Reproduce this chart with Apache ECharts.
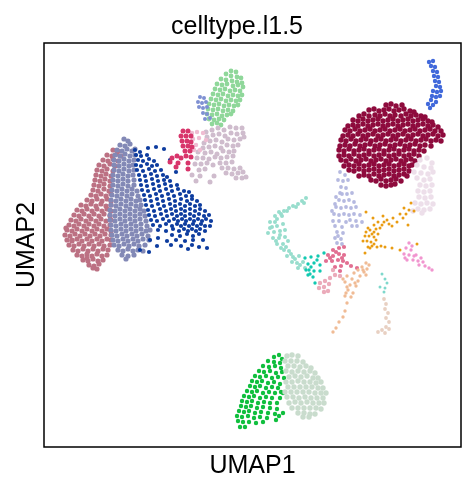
<!DOCTYPE html>
<html><head><meta charset="utf-8">
<script src="https://cdn.jsdelivr.net/npm/echarts@6/dist/echarts.min.js"></script>
<style>html,body{margin:0;padding:0;background:#fff}#c{width:474px;height:492px}</style></head>
<body><div id="c"></div>
<script>
const rose=[[113,150],[118,151],[107,155],[112,156],[117,154],[121,156],[103,160],[108,161],[113,159],[118,161],[99,165],[104,166],[110,164],[115,166],[97,170],[102,171],[107,169],[113,171],[96,175],[101,176],[106,174],[111,176],[95,180],[100,181],[105,179],[110,181],[94,185],[99,186],[104,184],[110,186],[93,190],[98,191],[104,189],[109,191],[91,195],[96,196],[101,194],[106,196],[111,194],[87,200],[92,201],[97,199],[102,201],[107,199],[111,201],[81,205],[86,206],[91,204],[96,206],[101,204],[106,206],[111,205],[77,210],[82,211],[87,209],[92,211],[97,209],[102,211],[107,209],[111,211],[74,215],[79,216],[84,214],[89,216],[94,214],[99,216],[104,214],[110,216],[71,220],[76,221],[81,219],[86,221],[91,219],[96,221],[101,219],[106,221],[111,220],[69,225],[74,226],[79,224],[84,226],[89,224],[94,226],[99,224],[104,226],[110,225],[67,230],[72,231],[77,229],[82,231],[87,229],[92,231],[97,229],[102,231],[107,229],[111,231],[65,235],[70,236],[75,234],[80,236],[85,234],[90,236],[95,234],[100,236],[105,234],[111,235],[67,240],[72,241],[77,239],[82,241],[87,239],[92,241],[97,239],[102,241],[107,239],[111,240],[69,245],[74,246],[79,244],[84,246],[89,244],[94,246],[99,244],[104,246],[110,245],[73,250],[78,251],[83,249],[88,251],[93,249],[98,251],[103,249],[108,250],[77,255],[82,256],[87,254],[92,256],[97,254],[102,256],[107,255],[83,260],[88,261],[93,259],[98,261],[103,260],[89,265],[94,266],[99,264],[93,268],[97,269],[87,258],[72,240],[66,228]];
const slate=[[124,139],[128,141],[120,145],[125,146],[130,144],[117,150],[122,151],[127,149],[132,151],[135,149],[115,155],[120,156],[125,154],[130,156],[135,155],[114,160],[119,161],[124,159],[129,161],[134,160],[114,165],[119,166],[124,164],[129,166],[133,165],[114,170],[119,171],[124,169],[129,171],[134,170],[113,175],[118,176],[123,174],[128,176],[133,175],[113,180],[118,181],[123,179],[128,181],[134,180],[113,185],[118,186],[123,184],[128,186],[134,185],[112,190],[117,191],[122,189],[127,191],[132,189],[137,191],[112,195],[117,196],[122,194],[127,196],[132,194],[138,196],[111,200],[116,201],[121,199],[126,201],[131,199],[136,201],[140,200],[111,205],[116,206],[121,204],[126,206],[131,204],[136,206],[141,205],[110,210],[115,211],[120,209],[125,211],[130,209],[135,211],[140,209],[144,211],[110,215],[115,216],[120,214],[125,216],[130,214],[135,216],[140,214],[145,216],[110,220],[115,221],[120,219],[125,221],[130,219],[135,221],[140,219],[146,221],[111,225],[116,226],[121,224],[126,226],[131,224],[136,226],[141,224],[147,226],[111,230],[116,231],[121,229],[126,231],[131,229],[136,231],[141,229],[146,231],[150,230],[112,235],[117,236],[122,234],[127,236],[132,234],[137,236],[142,234],[148,236],[113,240],[118,241],[123,239],[128,241],[133,239],[138,241],[143,239],[149,240],[114,245],[119,246],[124,244],[129,246],[134,244],[139,246],[145,245],[118,250],[123,251],[128,249],[133,251],[138,250],[143,251],[122,255],[128,256],[134,255],[126,259]];
const navy=[[135,150],[140,152],[136,155],[141,156],[147,155],[138,160],[143,161],[149,159],[154,161],[136,165],[141,166],[147,164],[152,166],[157,165],[137,170],[143,171],[149,169],[155,171],[161,170],[139,175],[145,176],[151,174],[157,176],[163,175],[167,177],[140,180],[146,181],[152,179],[158,181],[164,180],[170,181],[141,185],[147,186],[153,184],[159,186],[165,184],[171,186],[177,185],[142,190],[148,191],[154,189],[160,191],[166,189],[172,191],[178,189],[184,191],[189,192],[144,195],[150,196],[156,194],[162,196],[168,194],[174,196],[180,194],[186,196],[192,196],[145,200],[151,201],[157,199],[163,201],[169,199],[175,201],[181,199],[187,201],[192,199],[197,201],[146,205],[152,206],[158,204],[164,206],[170,204],[175,206],[180,204],[185,206],[190,204],[195,206],[200,205],[148,210],[154,211],[160,209],[166,211],[171,209],[176,211],[181,209],[185,211],[190,209],[195,211],[200,209],[205,211],[149,215],[155,216],[161,214],[167,216],[172,214],[177,216],[181,214],[185,216],[190,214],[194,216],[199,214],[204,216],[209,215],[151,220],[157,221],[163,219],[169,221],[174,219],[178,221],[182,219],[186,221],[190,219],[194,221],[198,219],[202,221],[206,219],[211,221],[153,225],[160,226],[166,224],[172,226],[177,224],[181,226],[185,224],[189,226],[193,224],[197,226],[201,224],[205,226],[210,226],[158,230],[166,231],[173,229],[179,231],[184,229],[188,231],[192,229],[196,231],[200,229],[205,231],[172,235],[180,236],[187,234],[193,236],[199,234],[150,240],[158,238],[167,241],[176,240],[185,241],[193,240],[203,240],[157,246],[171,245],[181,246],[192,245],[199,247],[207,248],[188,249],[140,250],[149,252],[164,149],[176,172],[170,160],[156,147],[148,148]];
const lightGreen=[[231,71],[236,72],[226,74],[231,76],[237,77],[241,78],[221,79],[226,80],[232,81],[237,82],[242,83],[217,84],[222,85],[227,84],[233,86],[238,85],[243,87],[215,89],[220,90],[225,89],[230,91],[235,90],[240,91],[213,94],[218,95],[223,94],[228,96],[233,95],[238,96],[242,95],[211,99],[216,100],[221,99],[226,101],[231,100],[236,101],[240,100],[209,104],[214,105],[219,104],[224,106],[229,105],[234,106],[238,105],[208,109],[213,110],[218,109],[223,111],[228,110],[233,111],[207,114],[212,115],[217,114],[222,116],[227,115],[231,114],[209,119],[214,120],[219,119],[224,120],[212,124],[217,123],[221,125]];
const periwinkle=[[200,97],[204,98],[198,102],[202,103],[206,102],[199,107],[203,108],[207,107],[203,113],[207,114],[205,119],[210,118]];
const crimson=[[183,131],[188,131],[181,136],[186,136],[191,136],[182,141],[187,141],[191,142],[183,146],[188,146],[192,147],[185,151],[190,151],[186,156],[191,157],[172,158],[177,156],[170,162],[178,163],[181,158],[188,163],[188,169],[176,167]];
const blush=[[192,133],[197,132],[193,139],[199,138],[196,145],[203,133],[194,150],[200,150],[206,140]];
const mauve=[[206,132],[212,130],[218,128],[224,130],[230,127],[236,128],[242,128],[207,137],[213,135],[219,134],[225,136],[231,133],[237,134],[243,133],[204,143],[210,141],[216,140],[222,142],[228,139],[234,140],[240,139],[244,137],[203,148],[209,147],[215,146],[221,148],[227,145],[233,146],[238,145],[198,152],[205,153],[211,152],[217,154],[223,151],[229,152],[234,151],[197,158],[203,158],[209,159],[215,157],[221,158],[227,157],[233,156],[195,164],[201,164],[207,163],[213,165],[220,163],[226,163],[232,162],[199,170],[205,169],[222,168],[228,168],[234,169],[240,168],[192,175],[200,176],[226,173],[232,174],[238,173],[243,172],[210,182],[214,176],[236,178],[242,178],[246,177],[196,181]];
const maroon=[[386,105],[391,104],[396,106],[402,105],[369,110],[374,109],[379,111],[384,110],[389,109],[394,111],[399,110],[404,109],[410,111],[414,112],[359,116],[364,114],[369,116],[375,115],[380,116],[385,114],[390,116],[395,115],[401,116],[406,114],[411,116],[416,115],[421,116],[425,117],[353,120],[358,121],[363,119],[368,121],[373,120],[378,119],[383,121],[388,120],[393,119],[398,121],[403,120],[408,119],[413,121],[418,120],[423,119],[428,121],[432,122],[348,126],[353,125],[358,126],[363,124],[368,126],[373,125],[378,124],[383,126],[388,125],[393,124],[398,126],[403,125],[408,124],[413,126],[418,125],[423,124],[428,126],[433,125],[438,127],[345,130],[350,131],[355,129],[360,131],[365,130],[370,129],[375,131],[380,130],[385,129],[390,131],[395,130],[400,129],[405,131],[410,130],[415,129],[420,131],[425,130],[430,129],[435,131],[441,131],[343,136],[348,135],[353,136],[358,134],[363,136],[368,135],[373,134],[378,136],[383,135],[388,134],[393,136],[398,135],[403,134],[408,136],[413,135],[418,134],[423,136],[428,135],[433,134],[438,136],[443,135],[341,140],[346,141],[351,139],[356,141],[361,140],[366,139],[371,141],[376,140],[381,139],[386,141],[391,140],[396,139],[401,141],[406,140],[411,139],[416,141],[421,140],[426,139],[431,141],[436,140],[441,141],[340,146],[345,145],[350,146],[355,144],[360,146],[365,145],[370,144],[375,146],[380,145],[385,144],[390,146],[395,145],[400,144],[405,146],[410,145],[415,144],[420,146],[425,145],[431,146],[339,150],[344,151],[349,149],[354,151],[359,150],[364,149],[369,151],[374,150],[379,149],[384,151],[389,150],[394,149],[399,151],[404,150],[409,149],[414,151],[419,150],[424,151],[339,156],[344,155],[349,156],[354,154],[359,156],[364,155],[369,154],[374,156],[379,155],[384,154],[389,156],[394,155],[399,154],[404,156],[409,155],[414,154],[419,156],[341,160],[346,161],[351,159],[356,161],[361,160],[366,159],[371,161],[376,160],[381,159],[386,161],[391,160],[396,159],[401,161],[406,160],[411,159],[415,161],[344,166],[349,165],[354,166],[359,164],[364,166],[369,165],[374,164],[379,166],[384,165],[389,164],[394,166],[399,165],[404,164],[409,166],[412,165],[349,170],[354,171],[359,169],[364,171],[369,170],[374,169],[379,171],[384,170],[389,169],[394,171],[399,170],[404,169],[409,171],[359,176],[364,175],[369,176],[374,174],[379,176],[384,175],[389,174],[394,176],[399,175],[404,174],[407,176],[371,180],[376,181],[381,179],[386,181],[391,180],[396,179],[401,181],[381,185],[386,186],[391,185],[395,184]];
const royal=[[429,62],[433,61],[431,66],[435,67],[433,71],[437,72],[434,76],[438,77],[435,81],[439,82],[436,86],[440,87],[433,91],[437,92],[441,91],[432,96],[436,97],[440,96],[431,100],[436,102],[428,104],[433,105],[430,108]];
const paleOrchid=[[420,160],[427,158],[432,163],[417,165],[424,167],[431,168],[414,172],[421,173],[428,174],[433,172],[417,178],[424,180],[430,179],[420,185],[426,186],[432,185],[418,191],[424,192],[430,191],[419,197],[425,198],[431,197],[415,203],[421,204],[427,203],[433,204],[418,209],[424,210],[430,209],[413,211],[422,213]];
const lavender=[[340,172],[345,175],[338,180],[343,181],[348,180],[341,187],[346,188],[342,194],[347,194],[352,193],[339,200],[344,201],[349,200],[354,202],[336,207],[341,208],[346,207],[351,208],[356,207],[334,214],[339,215],[344,214],[349,215],[354,214],[360,215],[333,221],[339,221],[350,220],[356,221],[362,222],[335,226],[342,227],[357,226],[337,232],[343,233],[335,238],[341,239],[337,243],[342,244],[336,197],[340,193],[335,204],[332,211],[346,222],[352,226],[338,236]];
const orange=[[366,212],[373,218],[383,216],[393,218],[404,208],[411,203],[409,210],[400,214],[414,211],[397,222],[389,224],[380,228],[374,225],[384,222],[392,226],[366,232],[370,230],[374,232],[365,236],[369,236],[374,237],[378,234],[367,241],[371,242],[376,240],[368,247],[372,246],[377,247],[381,246],[385,247],[392,248],[365,253],[400,250],[408,225],[417,244],[368,228],[372,234],[376,229],[363,241],[370,248],[374,244],[403,218],[387,220],[382,225],[378,222],[406,214]];
const aqua=[[306,198],[302,201],[298,204],[293,206],[289,208],[284,211],[279,212],[275,216],[270,222],[277,219],[282,216],[272,227],[277,226],[283,224],[268,233],[274,232],[280,231],[285,230],[273,238],[279,238],[285,237],[277,244],[283,244],[288,241],[284,250],[289,251],[287,256],[293,257],[299,256],[292,262],[297,263],[303,262],[298,268],[305,268],[304,203],[296,207],[287,211],[281,214],[270,228],[275,222],[280,235],[276,241],[281,248],[286,247],[291,254],[295,259],[300,265]];
const teal=[[305,258],[311,257],[318,256],[324,253],[308,264],[314,263],[320,265],[309,270],[314,271],[308,275],[313,277],[315,283],[320,271],[311,267],[306,270],[310,274],[317,260]];
const hotRose=[[333,250],[339,248],[344,247],[328,255],[333,256],[339,254],[344,255],[326,261],[332,261],[338,260],[343,261],[335,267],[341,266],[347,263],[340,271],[351,266],[357,268],[336,252],[330,258],[342,258]];
const paleRose=[[320,283],[325,281],[330,278],[335,275],[319,288],[324,287],[329,284],[324,292],[328,291],[333,270],[340,276]];
const peach=[[366,263],[369,265],[362,267],[367,269],[358,270],[364,272],[354,273],[360,276],[366,275],[347,276],[352,279],[358,281],[345,282],[350,285],[356,286],[348,290],[353,293],[345,296],[351,297],[347,303],[345,311],[343,317],[339,322],[336,328],[333,332],[343,279],[355,283],[347,287],[346,293],[363,270]];
const mint=[[382,274],[385,279],[387,283],[385,288],[380,287],[384,292]];
const beige=[[384,299],[386,304],[385,309],[388,313],[386,318],[389,322],[386,327],[382,330],[378,332],[385,333],[389,329]];
const pink=[[409,243],[406,248],[411,250],[404,254],[409,255],[414,256],[407,260],[413,260],[418,261],[423,262],[419,265],[425,266],[429,268],[432,270],[416,255],[412,246],[421,258],[405,258]];
const green=[[279,355],[274,357],[282,359],[268,361],[274,362],[280,363],[263,366],[269,367],[275,366],[281,368],[259,371],[264,372],[270,371],[276,373],[282,372],[255,376],[260,377],[266,376],[272,378],[278,377],[252,381],[257,382],[262,381],[268,383],[274,382],[280,384],[250,386],[255,387],[260,386],[266,388],[272,387],[278,388],[247,391],[252,392],[257,391],[263,393],[269,392],[275,393],[281,392],[244,396],[249,397],[254,396],[260,398],[266,397],[272,398],[280,398],[242,401],[247,402],[252,401],[258,403],[264,402],[270,403],[277,403],[241,406],[246,407],[251,406],[257,408],[263,407],[270,408],[277,409],[239,411],[244,412],[249,411],[255,413],[261,412],[268,413],[275,414],[283,413],[237,416],[242,417],[248,416],[254,418],[260,417],[267,418],[276,420],[238,421],[243,422],[249,422],[256,423],[263,422],[240,427],[245,427],[284,378],[283,393],[279,416]];
const paleGreen=[[287,356],[292,355],[298,356],[285,361],[291,361],[297,361],[303,362],[288,366],[294,366],[300,367],[306,366],[311,368],[286,371],[292,372],[298,371],[304,372],[310,371],[315,373],[289,377],[295,376],[301,377],[307,376],[313,378],[318,378],[286,382],[292,382],[298,381],[304,382],[310,382],[316,383],[321,382],[288,387],[294,387],[300,387],[306,387],[312,387],[318,388],[323,388],[285,392],[291,392],[297,392],[303,392],[309,392],[315,393],[321,393],[326,393],[287,397],[293,397],[299,398],[305,397],[311,398],[317,398],[323,398],[289,403],[295,402],[301,403],[307,402],[313,403],[319,403],[324,403],[292,408],[298,408],[304,408],[310,408],[316,408],[321,409],[298,413],[304,413],[310,414],[315,414],[303,417],[309,417]];

const layers=[
 [rose,'#bc7183',5.2],[slate,'#8389b6',5.2],[navy,'#0d3c9f',4.2],
 [lightGreen,'#8fd79a',4.8],[periwinkle,'#7f90d2',4],[mauve,'#cfbccd',5],[blush,'#efbcd2',4.5],[crimson,'#d8356b',5],
 [maroon,'#8e0b3d',5.4],[royal,'#4169db',4.4],[paleOrchid,'#eddfea',5.4],[lavender,'#b5b9e0',3.8],
 [orange,'#e99c12',3],[aqua,'#98ddcd',4],[teal,'#12c9b1',3.4],[hotRose,'#e26f92',4.2],[paleRose,'#ebabba',4.4],
 [peach,'#f0bb95',3.4],[mint,'#7fd8cc',3],[beige,'#e8d0c2',3.8],[pink,'#f195cf',3.4],
 [green,'#10bf3e',4.4],[paleGreen,'#c9dccd',5.4]
];
const font='"Liberation Sans",Arial,sans-serif';
const chart=echarts.init(document.getElementById('c'),null,{renderer:'canvas'});
chart.setOption({
 animation:false,backgroundColor:'#fff',
 title:{text:'celltype.l1.5',left:'center',top:10,textStyle:{fontFamily:font,fontSize:25,fontWeight:'normal',color:'#000'}},
 grid:{left:44,right:13,top:43,bottom:45,show:true,borderColor:'#000',borderWidth:1.5,backgroundColor:'#fff'},
 xAxis:{type:'value',min:44,max:461,name:'UMAP1',nameLocation:'middle',nameGap:7,nameTextStyle:{fontFamily:font,fontSize:25,color:'#000'},axisLine:{show:false},axisTick:{show:false},axisLabel:{show:false},splitLine:{show:false}},
 yAxis:{type:'value',min:43,max:447,inverse:true,name:'UMAP2',nameLocation:'middle',nameGap:4,nameTextStyle:{fontFamily:font,fontSize:25,color:'#000'},axisLine:{show:false},axisTick:{show:false},axisLabel:{show:false},splitLine:{show:false}},
 series:layers.map(l=>({type:'scatter',data:l[0],symbolSize:l[2],itemStyle:{color:l[1],opacity:1},silent:true}))
});
</script></body></html>
